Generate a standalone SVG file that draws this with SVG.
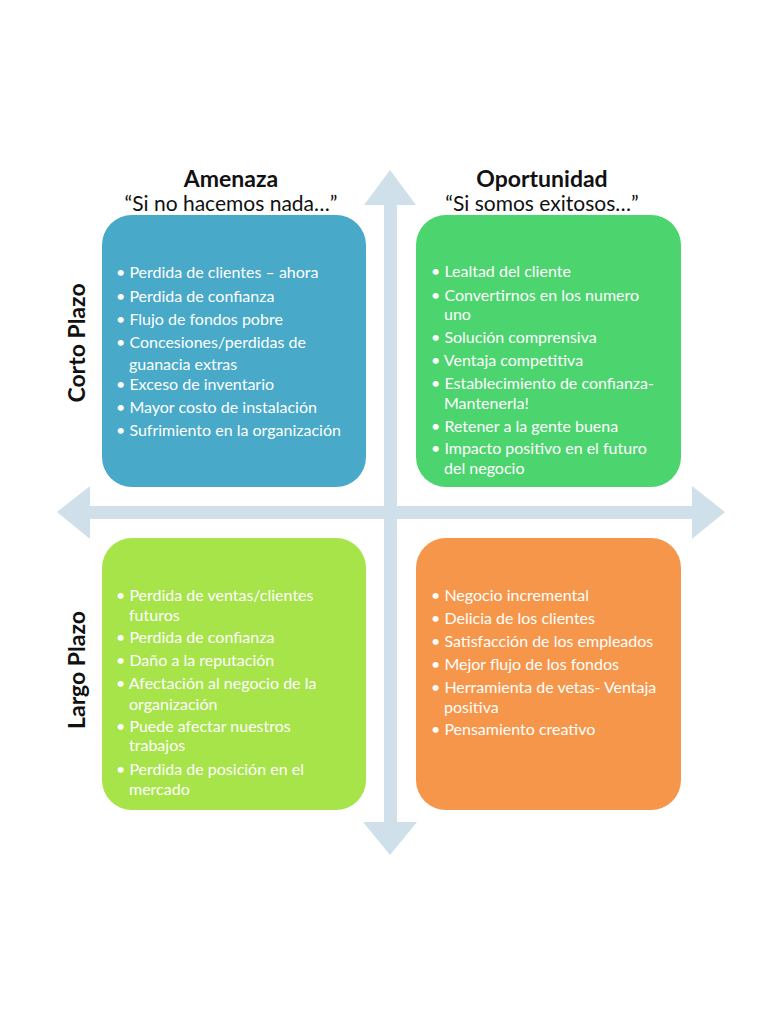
<svg xmlns="http://www.w3.org/2000/svg" width="768" height="1024" viewBox="0 0 768 1024">
<style>
.h{font-family:Lato,"Open Sans",sans-serif;font-weight:bold;font-size:23px;fill:#111;text-anchor:middle}
.q{font-family:Lato,"Open Sans",sans-serif;font-size:21px;fill:#111;text-anchor:middle}
.s{font-family:Lato,"Open Sans",sans-serif;font-weight:bold;font-size:23px;fill:#111;text-anchor:middle}
.t{font-family:Lato,"Open Sans",sans-serif;font-size:16px;fill:#fff}
.ax{fill:#cfe0ea}
</style>
<rect width="768" height="1024" fill="#fff"/>
<g id="axes">
<rect class="ax" x="384" y="200" width="13" height="628"/>
<rect class="ax" x="86" y="506" width="610" height="13"/>
<polygon class="ax" points="390,170 416,205 364,205"/>
<polygon class="ax" points="390,855 417,822 363,822"/>
<polygon class="ax" points="57,512 90,486 90,539"/>
<polygon class="ax" points="725,512 692,486 692,539"/>
</g>
<g id="headers">
<text class="h" x="231" y="187">Amenaza</text>
<text class="q" x="231" y="211">“Si no hacemos nada…”</text>
<text class="h" x="542" y="187">Oportunidad</text>
<text class="q" x="542" y="211">“Si somos exitosos…”</text>
<text class="s" transform="translate(85,343) rotate(-90)">Corto Plazo</text>
<text class="s" transform="translate(85,670) rotate(-90)">Largo Plazo</text>
</g>
<g id="amenaza-corto">
<rect x="102" y="215" width="264" height="272" rx="30" fill="#48a9c8"/>
<text class="t" x="116" y="278">• Perdida de clientes – ahora</text>
<text class="t" x="116" y="302">• Perdida de confianza</text>
<text class="t" x="116" y="325">• Flujo de fondos pobre</text>
<text class="t" x="116" y="348">• Concesiones/perdidas de</text>
<text class="t" x="129" y="370">guanacia extras</text>
<text class="t" x="116" y="390">• Exceso de inventario</text>
<text class="t" x="116" y="413">• Mayor costo de instalación</text>
<text class="t" x="116" y="436">• Sufrimiento en la organización</text>
</g>
<g id="oportunidad-corto">
<rect x="416" y="215" width="265" height="272" rx="30" fill="#4cd46e"/>
<text class="t" x="431" y="277">• Lealtad del cliente</text>
<text class="t" x="431" y="301">• Convertirnos en los numero</text>
<text class="t" x="444" y="320">uno</text>
<text class="t" x="431" y="343">• Solución comprensiva</text>
<text class="t" x="431" y="366">• Ventaja competitiva</text>
<text class="t" x="431" y="389">• Establecimiento de confianza-</text>
<text class="t" x="444" y="409">Mantenerla!</text>
<text class="t" x="431" y="432">• Retener a la gente buena</text>
<text class="t" x="431" y="454">• Impacto positivo en el futuro</text>
<text class="t" x="444" y="474">del negocio</text>
</g>
<g id="amenaza-largo">
<rect x="102" y="538" width="264" height="272" rx="30" fill="#a6e44a"/>
<text class="t" x="116" y="601">• Perdida de ventas/clientes</text>
<text class="t" x="129" y="621">futuros</text>
<text class="t" x="116" y="643">• Perdida de confianza</text>
<text class="t" x="116" y="666">• Daño a la reputación</text>
<text class="t" x="116" y="689">• Afectación al negocio de la</text>
<text class="t" x="129" y="710">organización</text>
<text class="t" x="116" y="732">• Puede afectar nuestros</text>
<text class="t" x="129" y="751">trabajos</text>
<text class="t" x="116" y="775">• Perdida de posición en el</text>
<text class="t" x="129" y="795">mercado</text>
</g>
<g id="oportunidad-largo">
<rect x="416" y="538" width="265" height="272" rx="30" fill="#f6964a"/>
<text class="t" x="431" y="601">• Negocio incremental</text>
<text class="t" x="431" y="624">• Delicia de los clientes</text>
<text class="t" x="431" y="647">• Satisfacción de los empleados</text>
<text class="t" x="431" y="670">• Mejor flujo de los fondos</text>
<text class="t" x="431" y="693">• Herramienta de vetas- Ventaja</text>
<text class="t" x="444" y="713">positiva</text>
<text class="t" x="431" y="735">• Pensamiento creativo</text>
</g>
</svg>
